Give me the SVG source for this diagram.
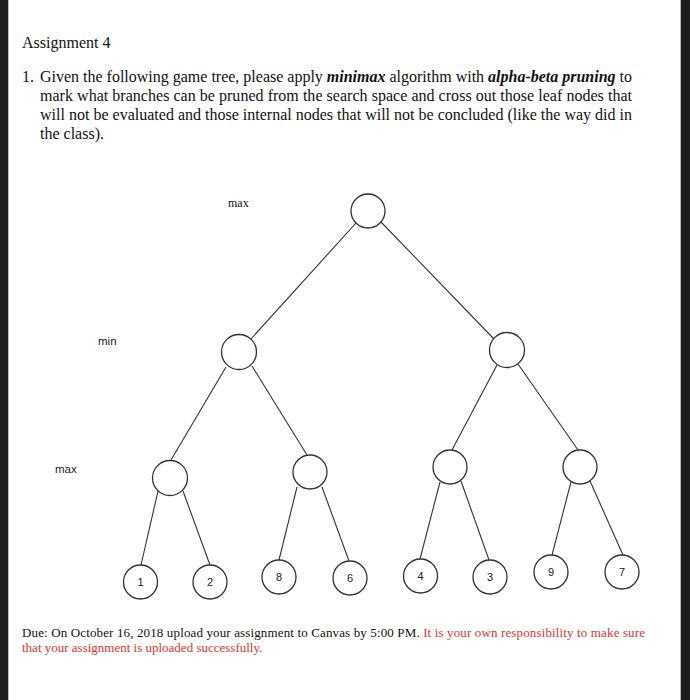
<svg xmlns="http://www.w3.org/2000/svg" width="690" height="700" viewBox="0 0 690 700">
<style>
.serif{font-family:"Liberation Serif","Times New Roman",serif;fill:#111}
.sans{font-family:"Liberation Sans",Arial,sans-serif;fill:#222;font-size:11.5px}
.node{fill:#fff;stroke:#333;stroke-width:1.3}
.edge{stroke:#333;stroke-width:1.1;fill:none}
.lbl{font-family:"Liberation Sans",Arial,sans-serif;font-size:11px;fill:#222;text-anchor:middle}
.red{fill:#e3342f}
.bi{font-weight:bold;font-style:italic}
</style>
<rect x="0" y="0" width="690" height="700" fill="#fff"/>
<rect x="0" y="0" width="8" height="700" fill="#1e1e1e"/>
<line x1="8.5" y1="0" x2="8.5" y2="700" stroke="#bbb" stroke-width="1"/>
<rect x="681" y="0" width="9" height="700" fill="#1e1e1e"/>
<line x1="680.5" y1="0" x2="680.5" y2="700" stroke="#bbb" stroke-width="1"/>

<text class="serif" x="22" y="48" font-size="16">Assignment 4</text>
<text class="serif" x="22" y="82" font-size="16">1.</text>
<text class="serif" x="40" y="82" font-size="16" textLength="592" lengthAdjust="spacing">Given the following game tree, please apply <tspan class="bi">minimax</tspan> algorithm with <tspan class="bi">alpha-beta pruning</tspan> to</text>
<text class="serif" x="40" y="101" font-size="16" textLength="592" lengthAdjust="spacing">mark what branches can be pruned from the search space and cross out those leaf nodes that</text>
<text class="serif" x="40" y="120" font-size="16" textLength="592" lengthAdjust="spacing">will not be evaluated and those internal nodes that will not be concluded (like the way did in</text>
<text class="serif" x="40" y="139" font-size="16">the class).</text>

<text class="serif" x="228" y="207" font-size="12">max</text>
<text class="sans" x="98" y="345">min</text>
<text class="sans" x="55" y="473">max</text>

<g id="connectors">
<line class="edge" x1="356" y1="223" x2="251" y2="339"/>
<line class="edge" x1="381" y1="222" x2="494" y2="339"/>
<line class="edge" x1="226" y1="367" x2="171" y2="460"/>
<line class="edge" x1="252" y1="366" x2="307" y2="455"/>
<line class="edge" x1="497" y1="365" x2="452" y2="450"/>
<line class="edge" x1="518" y1="364" x2="578" y2="450"/>
<line class="edge" x1="158" y1="491" x2="141" y2="565"/>
<line class="edge" x1="183" y1="491" x2="210" y2="565"/>
<line class="edge" x1="297" y1="487" x2="279" y2="560"/>
<line class="edge" x1="322" y1="487" x2="349" y2="561"/>
<line class="edge" x1="440" y1="482" x2="420" y2="559"/>
<line class="edge" x1="461" y1="481" x2="489" y2="560"/>
<line class="edge" x1="571" y1="482" x2="552" y2="555"/>
<line class="edge" x1="590" y1="481" x2="623" y2="555"/>
</g>

<g id="root"><circle class="node" cx="368" cy="211" r="17"/></g>
<g id="min-left"><circle class="node" cx="239" cy="352" r="17.5"/></g>
<g id="min-right"><circle class="node" cx="507" cy="350" r="17.5"/></g>
<g id="max-a"><circle class="node" cx="170" cy="478" r="17.5"/></g>
<g id="max-b"><circle class="node" cx="310" cy="472" r="17"/></g>
<g id="max-c"><circle class="node" cx="450" cy="467" r="17"/></g>
<g id="max-d"><circle class="node" cx="580" cy="467" r="17"/></g>

<g id="leaf-1"><circle class="node" cx="140.5" cy="582" r="17"/><text class="lbl" x="140.5" y="586">1</text></g>
<g id="leaf-2"><circle class="node" cx="210" cy="582" r="17"/><text class="lbl" x="210" y="586">2</text></g>
<g id="leaf-8"><circle class="node" cx="279" cy="577" r="17"/><text class="lbl" x="279" y="581">8</text></g>
<g id="leaf-6"><circle class="node" cx="350" cy="578" r="17"/><text class="lbl" x="350" y="582">6</text></g>
<g id="leaf-4"><circle class="node" cx="420.5" cy="576" r="17"/><text class="lbl" x="420.5" y="580">4</text></g>
<g id="leaf-3"><circle class="node" cx="490" cy="577" r="17"/><text class="lbl" x="490" y="581">3</text></g>
<g id="leaf-9"><circle class="node" cx="551" cy="572" r="17"/><text class="lbl" x="551" y="576">9</text></g>
<g id="leaf-7"><circle class="node" cx="622" cy="572" r="17"/><text class="lbl" x="622" y="576">7</text></g>

<text class="serif" x="22" y="637" font-size="13" textLength="623" lengthAdjust="spacing">Due: On October 16, 2018 upload your assignment to Canvas by 5:00 PM. <tspan class="red">It is your own responsibility to make sure</tspan></text>
<text class="serif red" x="22" y="652" font-size="13">that your assignment is uploaded successfully.</text>
</svg>
